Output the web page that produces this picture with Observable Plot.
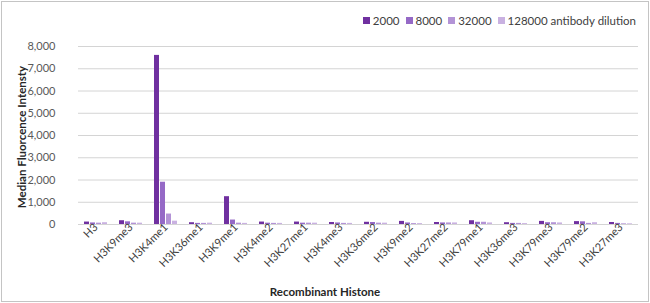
<!DOCTYPE html>
<html>
<head>
<meta charset="utf-8">
<script src="https://cdn.jsdelivr.net/npm/d3@7"></script>
<script src="https://cdn.jsdelivr.net/npm/@observablehq/plot@0.6"></script>
<style>
  html, body { margin: 0; padding: 0; background: #fff; }
  #wrap { position: relative; width: 650px; height: 303px; overflow: hidden; font-family: Lato, "Open Sans", sans-serif; }
  #frame { position: absolute; left: 1px; top: 1px; width: 646px; height: 299px; border: 1px solid #c4c4c4; pointer-events: none; }
  #legend { position: absolute; top: 14px; right: 14px; display: flex; gap: 6px; font-size: 11.5px; color: #404040; align-items: center; }
  #legend .item { display: flex; align-items: center; gap: 3px; }
  #legend .sw { width: 7px; height: 7px; display: inline-block; }
  .title { position: absolute; font-weight: bold; font-size: 11.5px; color: #262626; white-space: nowrap; line-height: 12px; }
  #ytitle { left: 22px; top: 137px; transform: translate(-50%, -50%) rotate(-90deg); }
  #xtitle { left: 325px; top: 292px; transform: translate(-50%, -50%); }
  #chart { position: absolute; left: 0; top: 0; }
</style>
</head>
<body>
<div id="wrap">
  <div id="chart"></div>
  <div id="legend"></div>
  <div class="title" id="ytitle"></div>
  <div class="title" id="xtitle"></div>
  <div id="frame"></div>
</div>
<script>
const histones = ["H3","H3K9me3","H3K4me1","H3K36me1","H3K9me1","H3K4me2","H3K27me1","H3K4me3","H3K36me2","H3K9me2","H3K27me2","H3K79me1","H3K36me3","H3K79me3","H3K79me2","H3K27me3"];
const dilutions = ["2000","8000","32000","128000"];
const v2000   = [110, 170, 7600, 80, 1250, 110, 110, 90, 100, 140, 90, 170, 80, 140, 130, 90];
const v8000   = [70, 120, 1900, 50, 200, 60, 60, 70, 90, 70, 70, 100, 50, 80, 120, 50];
const v32000  = [60, 60, 470, 50, 60, 50, 60, 50, 60, 40, 70, 100, 50, 80, 50, 30];
const v128000 = [80, 60, 150, 60, 50, 50, 60, 50, 60, 40, 70, 70, 40, 70, 80, 30];
const colors = ["#7030a0", "#9569c6", "#b393d6", "#c9b1e1"];
const yTicks = [0, 1000, 2000, 3000, 4000, 5000, 6000, 7000, 8000];
const legendSuffix = " antibody dilution";
const yTitle = "Median Fluorcence Intensty";
const xTitle = "Recombinant Histone";

const series = [v2000, v8000, v32000, v128000];
const data = histones.flatMap((h, i) => dilutions.map((d, j) => ({histone: h, dilution: d, value: series[j][i]})));

const chart = Plot.plot({
  width: 650,
  height: 303,
  marginLeft: 77,
  marginRight: 12,
  marginTop: 46,
  marginBottom: 79,
  style: {fontFamily: "Lato, 'Open Sans', sans-serif", fontSize: "10.5px", background: "transparent", color: "#595959"},
  fx: {domain: histones, padding: 0, axis: null},
  x: {domain: dilutions, paddingInner: 0.17, paddingOuter: 1.0, axis: null},
  y: {domain: [0, 8000], axis: null},
  color: {domain: dilutions, range: colors},
  marks: [
    Plot.gridY(yTicks, {stroke: "#d4d4d4", strokeOpacity: 1, strokeWidth: 1}),
    Plot.barY(data, {fx: "histone", x: "dilution", y: "value", fill: "dilution"}),
    Plot.axisY(yTicks, {tickFormat: d3.format(","), tickSize: 0, tickPadding: 23, label: null, fill: "#595959", fontSize: 11}),
    Plot.axisFx({anchor: "bottom", tickRotate: -45, tickSize: 0, tickPadding: 1, label: null, fill: "#404040", fontSize: 11})
  ]
});
document.getElementById("chart").appendChild(chart);

const legend = document.getElementById("legend");
dilutions.forEach((d, j) => {
  const it = document.createElement("span");
  it.className = "item";
  const sw = document.createElement("span");
  sw.className = "sw";
  sw.style.background = colors[j];
  const tx = document.createElement("span");
  tx.textContent = d + (j === dilutions.length - 1 ? legendSuffix : "");
  it.appendChild(sw); it.appendChild(tx);
  legend.appendChild(it);
});
document.getElementById("ytitle").textContent = yTitle;
document.getElementById("xtitle").textContent = xTitle;
</script>
</body>
</html>
